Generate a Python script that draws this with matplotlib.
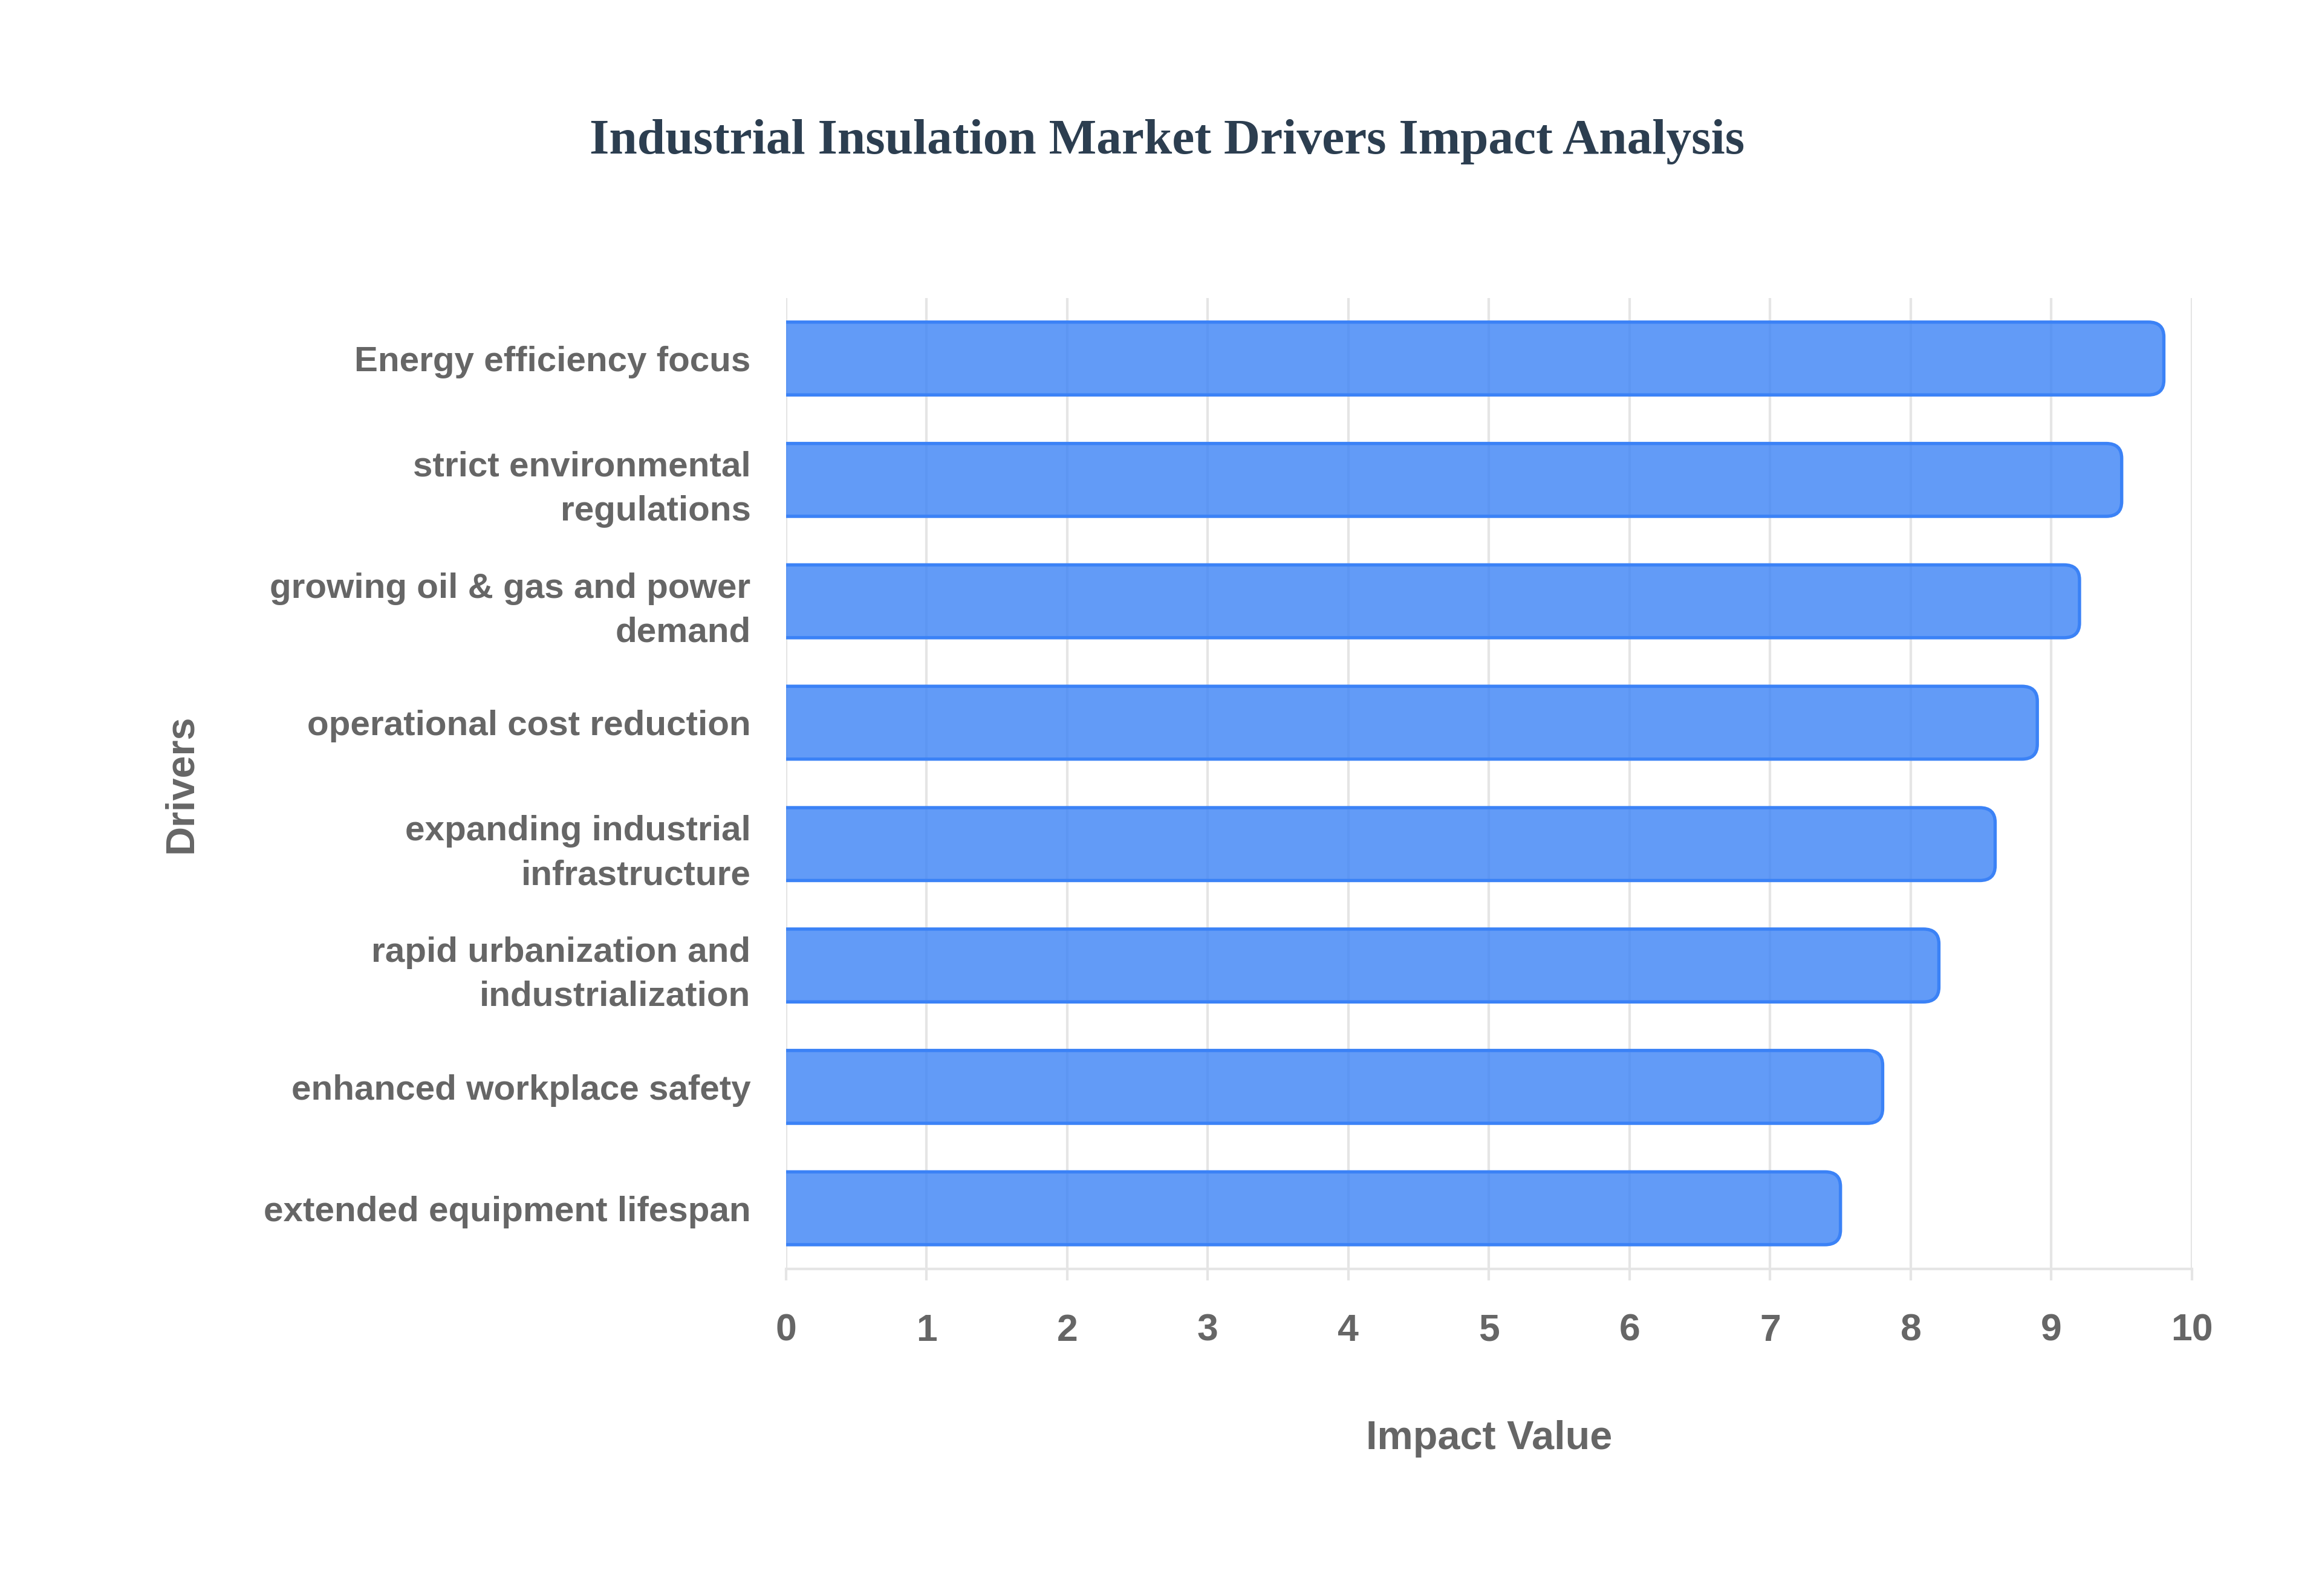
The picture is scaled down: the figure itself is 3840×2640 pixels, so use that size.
import numpy as np
import matplotlib
matplotlib.use("Agg")
import matplotlib.pyplot as plt
from matplotlib.patches import FancyBboxPatch

# data
drivers = [
    "Energy efficiency focus",
    "strict environmental\nregulations",
    "growing oil & gas and power\ndemand",
    "operational cost reduction",
    "expanding industrial\ninfrastructure",
    "rapid urbanization and\nindustrialization",
    "enhanced workplace safety",
    "extended equipment lifespan",
]
impact = [9.8, 9.5, 9.2, 8.9, 8.6, 8.2, 7.8, 7.5]
x_ticks = list(range(0, 11))

SANS = ["Liberation Sans", "DejaVu Sans"]
GREY = "#666666"
GRID = "#e5e5e5"

fig = plt.figure(figsize=(12.8, 8.8), dpi=300)
ax = fig.add_axes([0.3385, 0.2049, 0.6055, 0.6085])

ypos = np.arange(len(drivers))
bar_h = 0.6
for y, v in zip(ypos, impact):
    # start left of 0 so only the right end shows rounded corners
    p = FancyBboxPatch((-0.5, y - bar_h / 2), v + 0.5, bar_h,
                       boxstyle="round,pad=0,rounding_size=0.11",
                       mutation_aspect=1.1,
                       facecolor=(59 / 255, 130 / 255, 246 / 255, 0.8),
                       edgecolor="#3b82f6", linewidth=1.3, zorder=3)
    ax.add_patch(p)

ax.set_xlim(0, 10)
ax.set_ylim(len(drivers) - 0.5, -0.5)
ax.set_xticks(x_ticks)
ax.set_xticklabels([str(t) for t in x_ticks])
ax.set_yticks(ypos)
ax.set_yticklabels(drivers, linespacing=1.45)

ax.set_axisbelow(True)
ax.xaxis.grid(True, color=GRID, linewidth=1.0)
for s in ["top", "right", "left"]:
    ax.spines[s].set_visible(False)
ax.spines["bottom"].set_color(GRID)
ax.spines["bottom"].set_linewidth(1.0)

ax.tick_params(axis="x", length=4.5, width=1.0, color=GRID, pad=13)
ax.tick_params(axis="y", length=0, pad=14)
for lab in ax.get_xticklabels():
    lab.set_family(SANS)
    lab.set_fontweight("bold")
    lab.set_color(GREY)
    lab.set_fontsize(15)
for lab in ax.get_yticklabels():
    lab.set_family(SANS)
    lab.set_fontweight("bold")
    lab.set_color(GREY)
    lab.set_fontsize(14)

ax.set_xlabel("Impact Value", family=SANS, fontweight="bold", color=GREY, fontsize=16)
ax.xaxis.set_label_coords(0.5, -0.175)
ax.xaxis.label.set_va("center")
ax.set_ylabel("Drivers", family=SANS, fontweight="bold", color=GREY, fontsize=16)
ax.yaxis.set_label_coords(-0.43, 0.5)
ax.yaxis.label.set_va("center")

fig.text(0.5026, 0.911, "Industrial Insulation Market Drivers Impact Analysis",
         family=["Liberation Serif", "DejaVu Serif"], fontweight="bold",
         fontsize=20, color="#2c3e50", ha="center", va="center")

fig.savefig("out.png", dpi=300, facecolor="white")
